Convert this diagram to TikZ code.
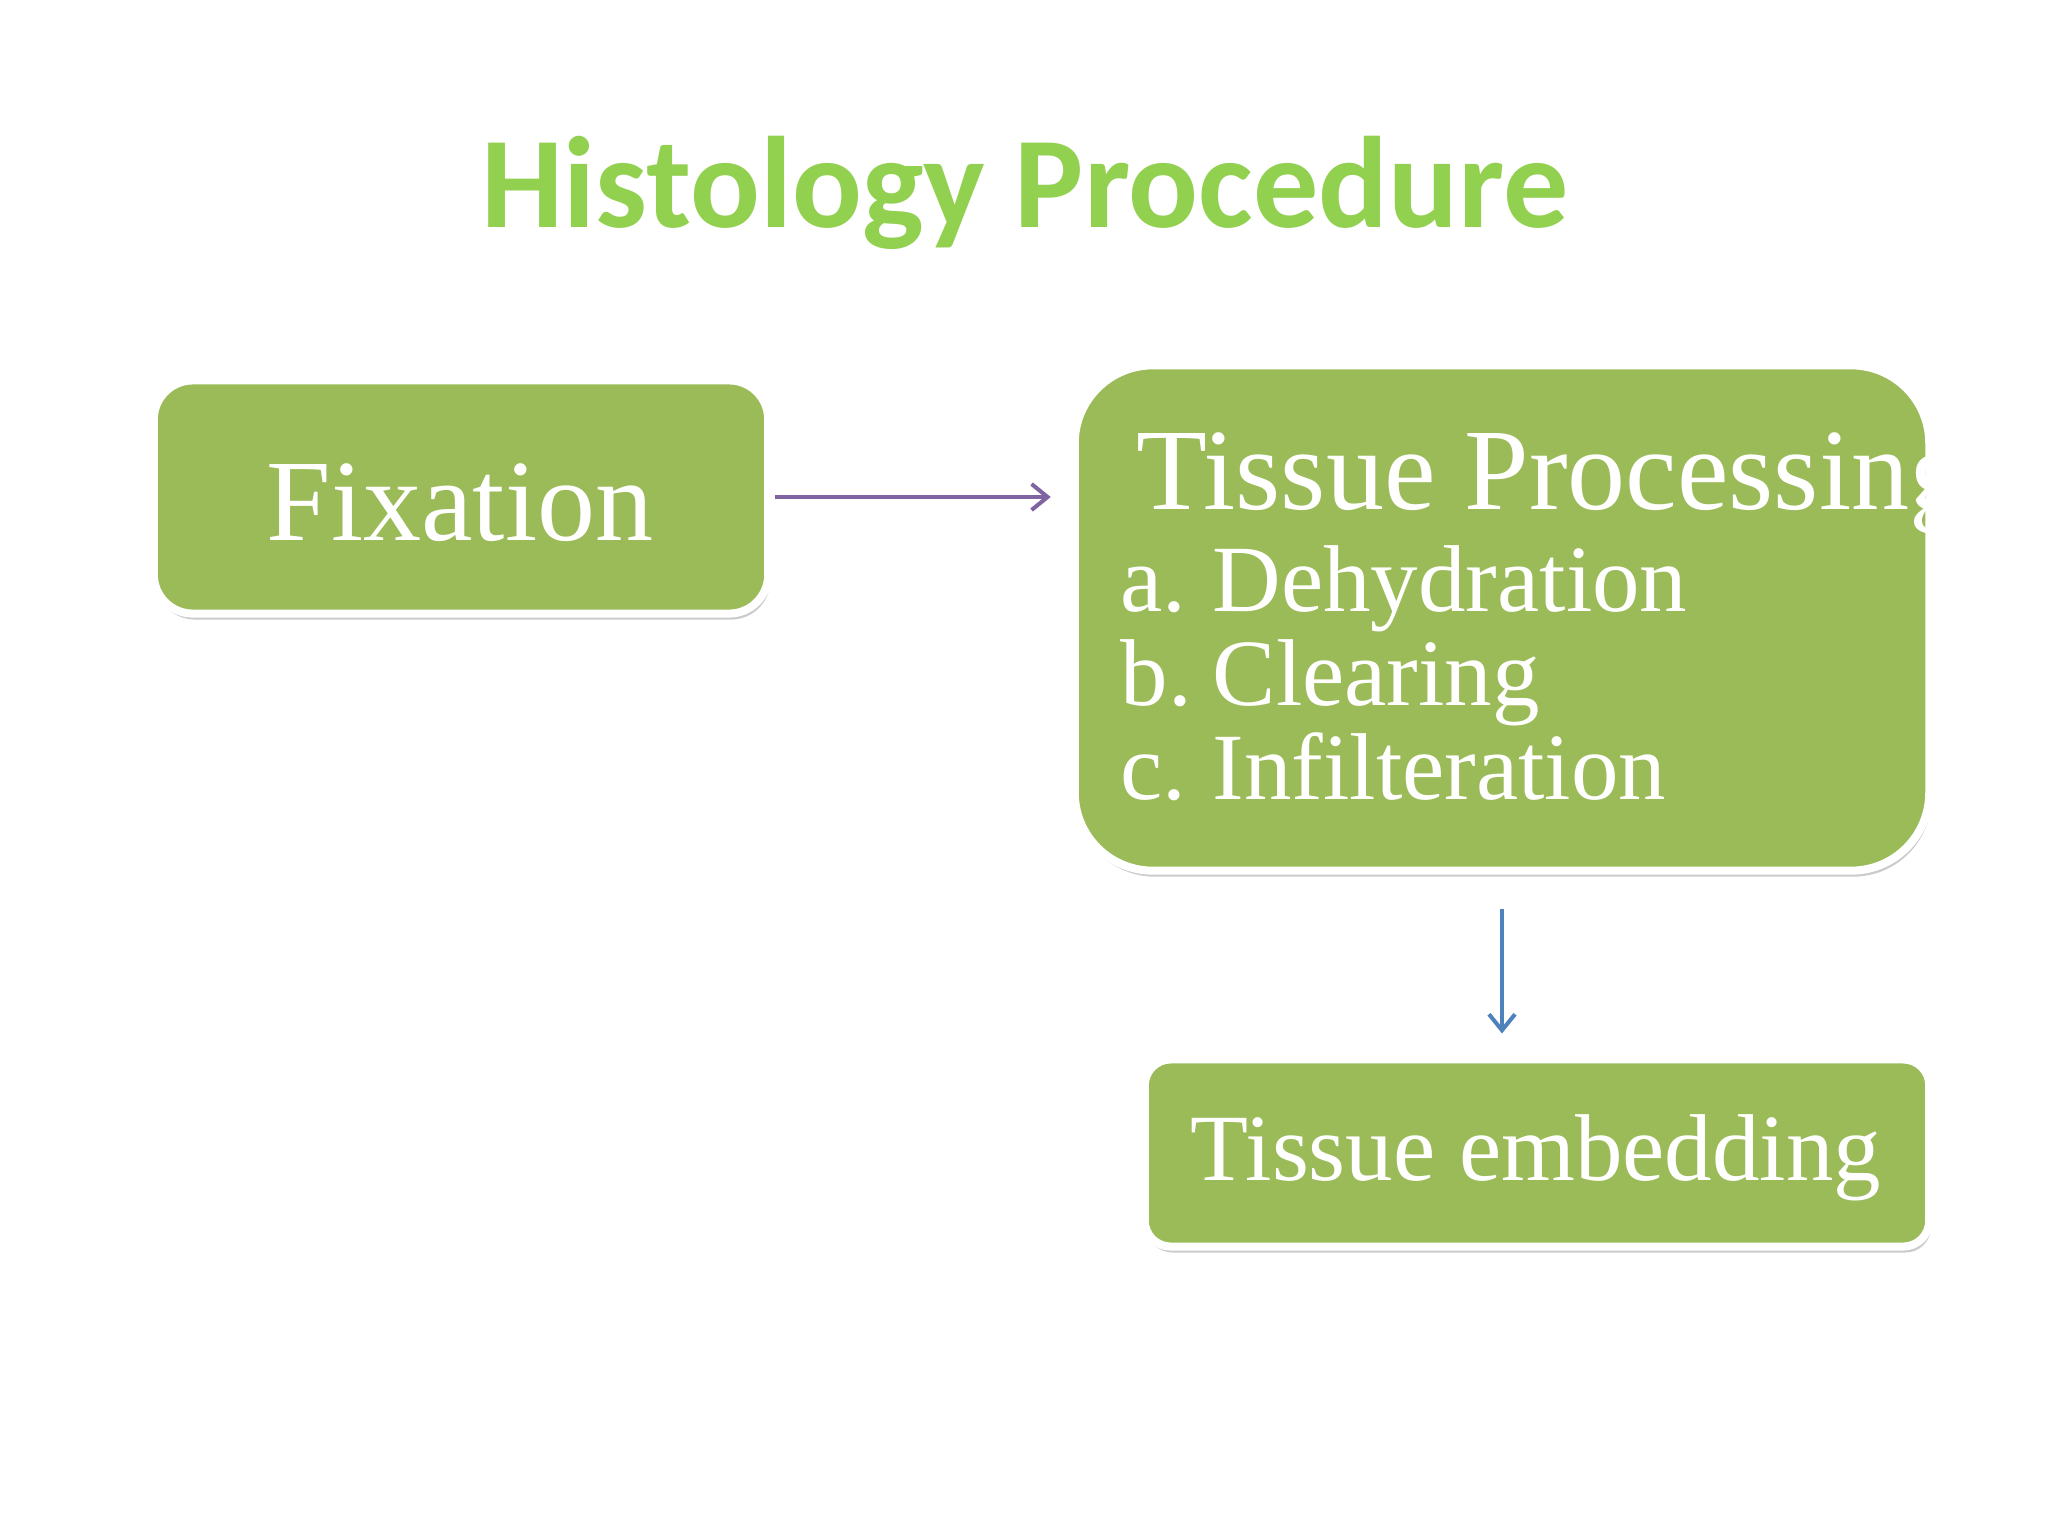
\documentclass[tikz,border=0pt]{standalone}
\usepackage{fontspec}
\setmainfont{Liberation Serif}
\newfontfamily\titlefont{Carlito}
\usetikzlibrary{arrows.meta,shadows}
\definecolor{boxgreen}{HTML}{9BBB59}
\definecolor{titlegreen}{HTML}{92D050}
\definecolor{arrpurple}{HTML}{8064A2}
\definecolor{arrblue}{HTML}{4F81BD}
\begin{document}
\begin{tikzpicture}[x=0.01cm,y=-0.01cm,
  gbox/.style={draw=white,line width=0.08cm,fill=boxgreen,inner sep=0pt,
    drop shadow={shadow xshift=0.02cm,shadow yshift=-0.06cm,fill=black!40,opacity=0.5}},
  btext/.style={text=white,inner sep=0pt},
  conn/.style={line width=0.04cm,-{Straight Barb[length=0.16cm,width=0.26cm]}}]
\useasboundingbox[fill=white] (0,0) rectangle (2048,1536);
\node[text=titlegreen,font=\titlefont\bfseries\fontsize{37}{44}\selectfont] (title) at (1025,193) {Histology Procedure};
\node[gbox,rounded corners=0.39cm,minimum width=6.14cm,minimum height=2.33cm] (fix) at (461,497) {};
\node[btext,font=\fontsize{33}{40}\selectfont] (fixt) at (460,503) {Fixation};
\node[gbox,rounded corners=0.78cm,minimum width=8.54cm,minimum height=5.05cm] (tp) at (1502,618) {};
\node[btext,font=\fontsize{33}{40}\selectfont,anchor=base west] (tpt) at (1136,509) {Tissue Processing};
\foreach \l/\t/\y/\n in {a./Dehydration/611/a,b./Clearing/705/b,c./Infilteration/799/c}{
  \node[btext,font=\fontsize{27}{32}\selectfont,anchor=base west] (l\n) at (1120,\y) {\l};
  \node[btext,font=\fontsize{27}{32}\selectfont,anchor=base west] (t\n) at (1212,\y) {\t};
}
\node[gbox,rounded corners=0.26cm,minimum width=7.84cm,minimum height=1.87cm] (emb) at (1537,1153) {};
\node[btext,font=\fontsize{27}{32}\selectfont] (embt) at (1536,1158) {Tissue embedding};
\draw[conn,draw=arrpurple,shorten >=0.2cm,shorten <=0.03cm] (fix.east) -- (tp.west|-fix.east);
\draw[conn,draw=arrblue,shorten <=0.34cm,shorten >=0.22cm] (tp.south) -- (emb.north-|tp.south);
\end{tikzpicture}
\end{document}
